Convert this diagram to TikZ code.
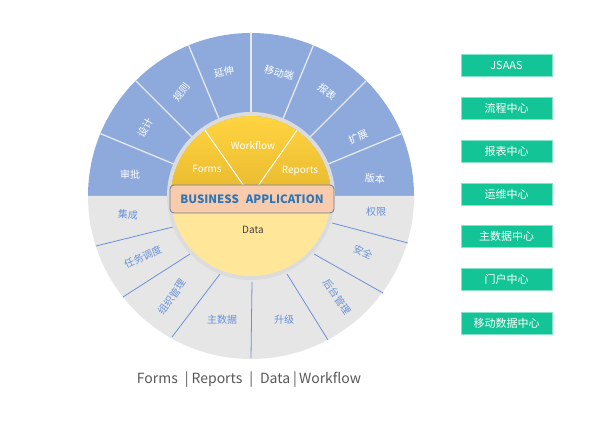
\documentclass[tikz,border=0pt]{standalone}
\usepackage{fontspec}
\setmainfont{Noto Sans CJK SC}
\usetikzlibrary{calc}
\begin{document}
\begin{tikzpicture}[x=1pt,y=1pt,
  upl/.style={text=white,font=\fontsize{10}{11}\selectfont,inner sep=0pt},
  lowl/.style={text=lowtxt,font=\fontsize{10}{11}\selectfont,inner sep=0pt},
  yl/.style={text=white,font=\fontsize{10}{12}\selectfont,inner sep=0pt},
  tealbox/.style={draw=tealedge,line width=0.6pt,fill=teal1,minimum width=91pt,minimum height=22pt,inner sep=0pt,text=white,font=\fontsize{11}{12}\selectfont},
  updiv/.style={draw=divw,line width=1.3pt},
  lowdiv/.style={draw=lowline,line width=0.8pt}]
\definecolor{blue1}{HTML}{8EAADC}
\definecolor{grey1}{HTML}{E7E6E6}
\definecolor{divw}{HTML}{E3E8F1}
\definecolor{lowline}{HTML}{6E90D4}
\definecolor{lowtxt}{HTML}{6792D6}
\definecolor{ytop}{HTML}{FFD440}
\definecolor{ybot}{HTML}{E8B92F}
\definecolor{ylow}{HTML}{FFE699}
\definecolor{ring}{HTML}{DCDCDC}
\definecolor{peach}{HTML}{F8CBAD}
\definecolor{boxedge}{HTML}{6B7C93}
\definecolor{batext}{HTML}{2E75B6}
\definecolor{teal1}{HTML}{13C496}
\definecolor{tealedge}{HTML}{86E3C9}
\definecolor{bottxt}{HTML}{595959}
\definecolor{datatxt}{HTML}{404040}
\useasboundingbox (0,0) rectangle (611,435);
\fill[white] (0,0) rectangle (611,435);
\coordinate (C) at (251,239);
% outer halves
\fill[blue1] ($(C)+(163,0)$) arc (0:180:163) -- cycle;
\fill[grey1] ($(C)+(-163,0)$) arc (180:360:163) -- cycle;
% upper dividers
\foreach \a in {22.5,45,67.5,90,112.5,135,157.5}
  \draw[updiv] ($(C)+(\a:83)$) -- ($(C)+(\a:163)$);
% lower dividers
\coordinate (l1a) at (96,189); \coordinate (l1b) at (173,208);
\coordinate (l2a) at (123,138); \coordinate (l2b) at (190,181);
\coordinate (l3a) at (172,98); \coordinate (l3b) at (220,161);
\coordinate (l4a) at (251,77); \coordinate (l4b) at (252,153);
\coordinate (l5a) at (328,95); \coordinate (l5b) at (287,161);
\coordinate (l6a) at (383,142); \coordinate (l6b) at (314,181);
\coordinate (l7a) at (408,192); \coordinate (l7b) at (332,212);
\foreach \i in {1,...,7} \draw[lowdiv] (l\i a) -- (l\i b);
% inner circle
\draw[ring,line width=4pt] (C) circle (82);
\shade[top color=ytop,bottom color=ybot] ($(C)+(80,0)$) arc (0:180:80) -- cycle;
\fill[ylow] ($(C)+(-80,0)$) arc (180:360:80) -- cycle;
\draw[white,line width=1pt] ($(C)+(125:13)$) -- ($(C)+(125:80)$);
\draw[white,line width=1pt] ($(C)+(55:13)$) -- ($(C)+(55:80)$);
% yellow labels
\node[yl] (forms) at (207,266) {Forms};
\node[yl] (wf) at (253,289) {Workflow};
\node[yl] (rep) at (300,264) {Reports};
\node[text=datatxt,font=\fontsize{10}{12}\selectfont,inner sep=0pt] (data) at (253,205) {Data};
% business application box
\node[draw=boxedge,line width=0.8pt,fill=peach,rounded corners=4pt,minimum width=164pt,minimum height=28pt,inner sep=0pt,
  text=batext,font=\bfseries\fontsize{11.5}{14}\selectfont] (ba) at (252,236) {BUSINESS\hspace{0.6em}APPLICATION};
% upper labels
\node[upl,rotate=0] (u1) at (130,260) {审批};
\node[upl,rotate=60] (u2) at (145,307) {设计};
\node[upl,rotate=52] (u3) at (182,343) {规则};
\node[upl,rotate=10] (u4) at (224,363) {延伸};
\node[upl,rotate=-15] (u5) at (279,362) {移动端};
\node[upl,rotate=-40] (u6) at (327,343) {报表};
\node[upl,rotate=25] (u7) at (358,298) {扩展};
\node[upl,rotate=-5] (u8) at (375,256) {版本};
% lower labels
\node[lowl,rotate=-5] (d1) at (128,220) {集成};
\node[lowl,rotate=25] (d2) at (143,178) {任务调度};
\node[lowl,rotate=55] (d3) at (172,138) {组织管理};
\node[lowl] (d4) at (222,115) {主数据};
\node[lowl] (d5) at (284,115) {升级};
\node[lowl,rotate=-55] (d6) at (337,138) {后台管理};
\node[lowl,rotate=-25] (d7) at (363,183) {安全};
\node[lowl] (d8) at (376,223) {权限};
% right boxes
\node[tealbox] (b1) at (506.5,370) {JSAAS};
\node[tealbox] (b2) at (506.5,327) {流程中心};
\node[tealbox] (b3) at (506.5,284) {报表中心};
\node[tealbox] (b4) at (506.5,241) {运维中心};
\node[tealbox] (b5) at (506.5,199) {主数据中心};
\node[tealbox] (b6) at (506.5,156) {门户中心};
\node[tealbox] (b7) at (506.5,112) {移动数据中心};
% bottom text
\node[text=bottxt,font=\fontsize{14}{16}\selectfont,inner sep=0pt] (bt) at (249,55) {Forms\hspace{7pt}|\hspace{3pt}Reports\hspace{7pt}|\hspace{7pt}Data\hspace{3pt}|\hspace{2pt}Workflow};
\end{tikzpicture}
\end{document}
